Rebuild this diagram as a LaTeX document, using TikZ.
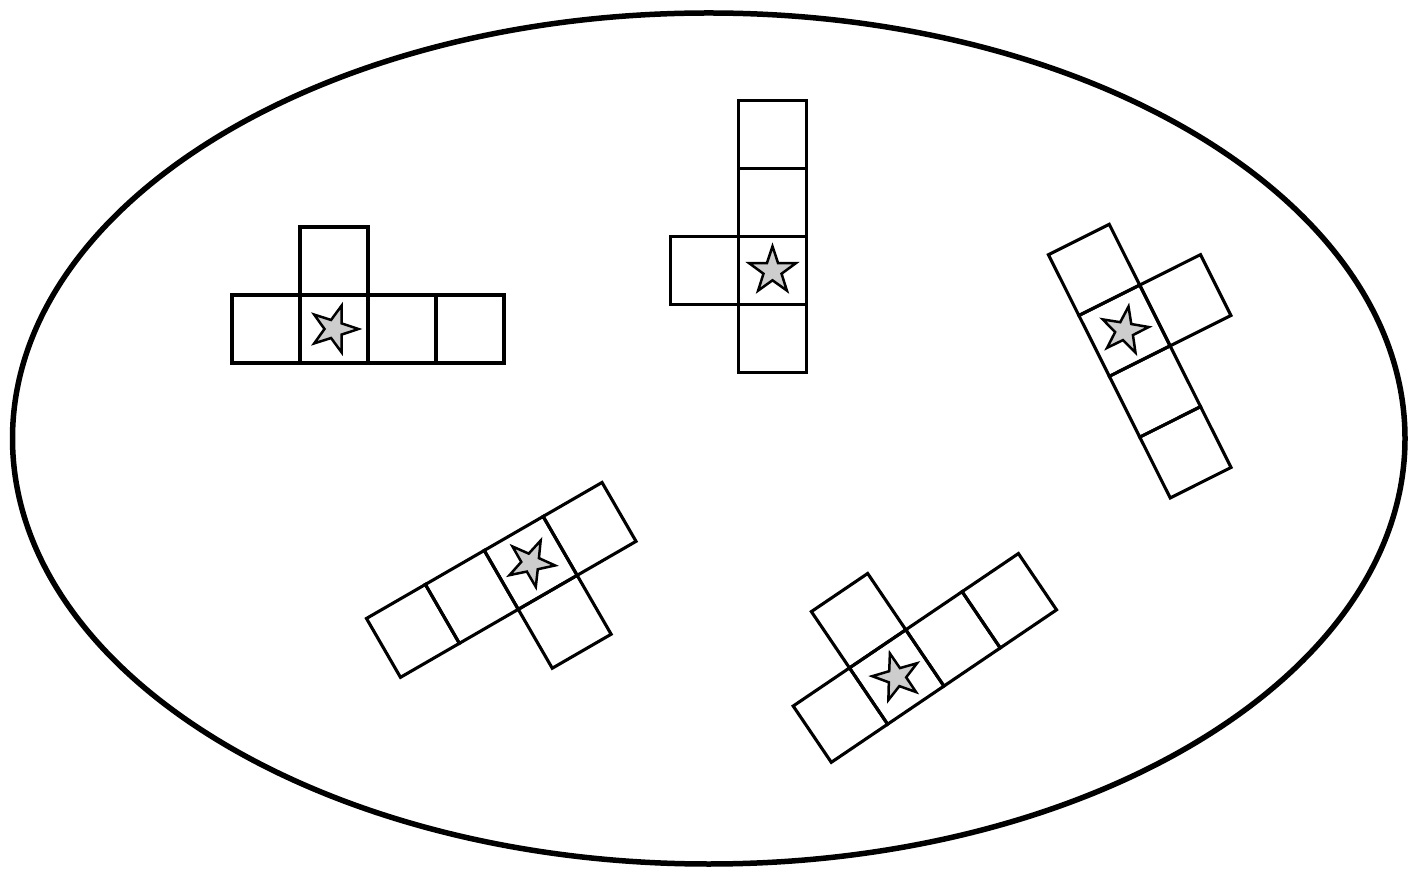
\documentclass[tikz,border=0pt]{standalone}
\definecolor{starfill}{RGB}{205,205,205}
\tikzset{
  cell/.style={draw=black, line width=3.1pt, line join=miter},
  starmark/.style={draw=black, fill=starfill, line width=2.5pt, line join=miter},
  outline/.style={draw=black, line width=5.5pt},
  pent/.pic={
    \foreach \i in {-1,0,1,2} {\draw[cell] (\i*68-34,-34) rectangle ++(68,68);}
    \draw[cell] (-34,34) rectangle ++(68,68);
    \draw[starmark] (0:24.5) -- (36:9.5) -- (72:24.5) -- (108:9.5) -- (144:24.5)
      -- (180:9.5) -- (216:24.5) -- (252:9.5) -- (288:24.5) -- (324:9.5) -- cycle;
  }
}
\begin{document}
\begin{tikzpicture}[x=1pt,y=1pt]
  \useasboundingbox (0,0) rectangle (1420,881);
  \draw[outline] (708.75,442.5) ellipse [x radius=696.25, y radius=425.5];
  \pic at (334,552) {pent};
  \pic[rotate=90] at (772.5,610.2) {pent};
  \pic[rotate=-63.4] at (1124.5,550.3) {pent};
  \pic[rotate=210] at (530.7,318.1) {pent};
  \pic[rotate=34.1] at (896.7,204) {pent};
\end{tikzpicture}
\end{document}
